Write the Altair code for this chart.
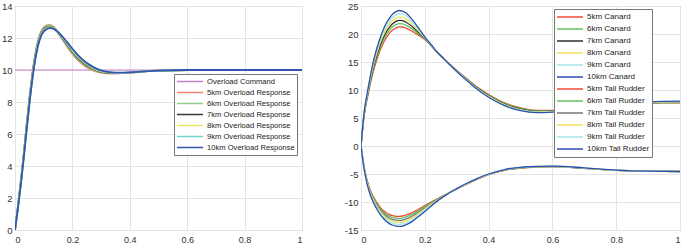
import altair as alt
import pandas as pd

# ---------------- Left panel: overload responses ----------------
T_L = [0, .01, .02, .03, .04, .05, .06, .07, .08, .09, .10, .11, .12, .13, .14,
       .16, .18, .20, .22, .24, .26, .28, .30, .33, .36, .40, .45, .50, .60, .70, .80, 1.0]
CMD_T = [0, 1]
CMD_Y = [10, 10]
L5 = [0, 1.46, 3.02, 4.70, 6.50, 8.22, 9.72, 10.93, 11.82, 12.37, 12.66, 12.79, 12.82, 12.75, 12.60,
      12.06, 11.50, 11.00, 10.60, 10.29, 10.06, 9.92, 9.83, 9.78, 9.79, 9.84, 9.91, 9.96, 10.0, 10.0, 10.0, 10.0]
L6 = [0, 1.44, 2.98, 4.66, 6.45, 8.16, 9.66, 10.88, 11.77, 12.32, 12.61, 12.75, 12.78, 12.72, 12.58,
      12.09, 11.56, 11.07, 10.67, 10.35, 10.11, 9.96, 9.86, 9.80, 9.80, 9.84, 9.91, 9.96, 10.0, 10.0, 10.0, 10.0]
L7 = [0, 1.40, 2.92, 4.58, 6.35, 8.05, 9.55, 10.78, 11.68, 12.24, 12.52, 12.67, 12.71, 12.66, 12.54,
      12.12, 11.62, 11.15, 10.74, 10.42, 10.17, 10.00, 9.89, 9.81, 9.80, 9.84, 9.91, 9.96, 10.0, 10.0, 10.0, 10.0]
L8 = [0, 1.38, 2.88, 4.52, 6.28, 7.98, 9.48, 10.71, 11.62, 12.19, 12.48, 12.63, 12.68, 12.64, 12.53,
      12.15, 11.67, 11.21, 10.80, 10.48, 10.22, 10.04, 9.92, 9.83, 9.81, 9.84, 9.91, 9.96, 10.0, 10.0, 10.0, 10.0]
L9 = [0, 1.36, 2.84, 4.47, 6.22, 7.91, 9.41, 10.65, 11.56, 12.14, 12.44, 12.59, 12.65, 12.62, 12.52,
      12.18, 11.72, 11.27, 10.86, 10.53, 10.27, 10.08, 9.95, 9.85, 9.82, 9.85, 9.91, 9.96, 10.0, 10.0, 10.0, 10.0]
L10 = [0, 1.34, 2.80, 4.42, 6.16, 7.84, 9.34, 10.58, 11.50, 12.09, 12.40, 12.55, 12.62, 12.60, 12.51,
       12.20, 11.77, 11.33, 10.92, 10.58, 10.32, 10.12, 9.98, 9.87, 9.83, 9.85, 9.91, 9.96, 10.0, 10.0, 10.0, 10.0]

LEFT_NAMES = ["Overload Command", "5km Overload Response", "6km Overload Response",
              "7km Overload Response", "8km Overload Response", "9km Overload Response",
              "10km Overload Response"]
LEFT_COLORS = ["#c77fcf", "#f4836f", "#8ed08a", "#3a3a3a", "#ece660", "#6fd8cc", "#3556b0"]

# ---------------- Right panel: canard / tail rudder ----------------
T_R = [0, .01, .02, .03, .04, .05, .06, .07, .08, .09, .10, .11, .12, .13, .14,
       .16, .18, .20, .22, .24, .26, .28, .30, .33, .36, .40, .45, .50, .55, .60, .70, .80, .90, 1.0]
C5 = [0, 5.50, 8.60, 11.30, 13.60, 15.50, 17.10, 18.40, 19.40, 20.20, 20.75, 21.10, 21.28, 21.25, 21.05,
      20.50, 19.80, 19.00, 17.90, 16.60, 15.55, 14.50, 13.50, 12.10, 10.70, 9.20, 7.70, 6.80, 6.35, 6.35, 6.90, 7.40, 7.65, 7.70]
C6 = [0, 5.62, 8.80, 11.58, 13.96, 15.90, 17.54, 18.88, 19.92, 20.74, 21.32, 21.68, 21.86, 21.82, 21.60,
      20.92, 20.06, 19.10, 17.94, 16.62, 15.56, 14.49, 13.46, 12.04, 10.62, 9.10, 7.60, 6.70, 6.27, 6.29, 6.88, 7.42, 7.70, 7.76]
C7 = [0, 5.74, 9.00, 11.86, 14.32, 16.30, 17.98, 19.36, 20.44, 21.28, 21.89, 22.26, 22.45, 22.39, 22.15,
      21.34, 20.32, 19.20, 17.98, 16.64, 15.57, 14.48, 13.42, 11.98, 10.54, 9.00, 7.50, 6.60, 6.19, 6.23, 6.86, 7.44, 7.75, 7.82]
C8 = [0, 5.86, 9.20, 12.14, 14.68, 16.70, 18.42, 19.84, 20.96, 21.82, 22.46, 22.84, 23.03, 22.96, 22.70,
      21.76, 20.58, 19.30, 18.02, 16.66, 15.58, 14.47, 13.38, 11.92, 10.46, 8.90, 7.40, 6.50, 6.11, 6.17, 6.84, 7.46, 7.80, 7.88]
C9 = [0, 5.98, 9.40, 12.42, 15.04, 17.10, 18.86, 20.32, 21.48, 22.36, 23.03, 23.42, 23.62, 23.53, 23.25,
      22.18, 20.84, 19.40, 18.06, 16.68, 15.59, 14.46, 13.34, 11.86, 10.38, 8.80, 7.30, 6.40, 6.03, 6.11, 6.82, 7.48, 7.85, 7.94]
C10 = [0, 6.10, 9.60, 12.70, 15.40, 17.50, 19.30, 20.80, 22.00, 22.90, 23.60, 24.00, 24.20, 24.10, 23.80,
       22.60, 21.10, 19.50, 18.10, 16.70, 15.60, 14.45, 13.30, 11.80, 10.30, 8.70, 7.20, 6.30, 5.95, 6.05, 6.80, 7.50, 7.90, 8.00]
R5 = [0, -3.80, -6.30, -8.00, -9.20, -10.10, -10.90, -11.50, -11.95, -12.25, -12.45, -12.55, -12.55, -12.50, -12.35,
      -11.90, -11.30, -10.65, -10.00, -9.40, -8.80, -8.25, -7.70, -6.85, -6.05, -5.10, -4.35, -3.95, -3.75, -3.70, -4.00, -4.35, -4.50, -4.55]
R6 = [0, -3.88, -6.44, -8.18, -9.40, -10.34, -11.16, -11.78, -12.26, -12.58, -12.79, -12.90, -12.91, -12.86, -12.70,
      -12.22, -11.56, -10.86, -10.14, -9.48, -8.84, -8.25, -7.68, -6.82, -6.02, -5.08, -4.32, -3.92, -3.73, -3.68, -3.98, -4.34, -4.50, -4.55]
R7 = [0, -3.96, -6.58, -8.36, -9.60, -10.58, -11.42, -12.06, -12.57, -12.91, -13.13, -13.25, -13.27, -13.22, -13.05,
      -12.54, -11.82, -11.07, -10.28, -9.56, -8.88, -8.25, -7.66, -6.79, -5.99, -5.06, -4.29, -3.89, -3.71, -3.66, -3.96, -4.33, -4.50, -4.55]
R8 = [0, -4.04, -6.72, -8.54, -9.80, -10.82, -11.68, -12.34, -12.88, -13.24, -13.47, -13.60, -13.63, -13.58, -13.40,
      -12.86, -12.08, -11.28, -10.42, -9.64, -8.92, -8.25, -7.64, -6.76, -5.96, -5.04, -4.26, -3.86, -3.69, -3.64, -3.94, -4.32, -4.50, -4.55]
R9 = [0, -4.12, -6.86, -8.72, -10.00, -11.06, -11.94, -12.62, -13.19, -13.57, -13.81, -13.95, -13.99, -13.94, -13.75,
      -13.18, -12.34, -11.49, -10.56, -9.72, -8.96, -8.25, -7.62, -6.73, -5.93, -5.02, -4.23, -3.83, -3.67, -3.62, -3.92, -4.31, -4.50, -4.55]
R10 = [0, -4.20, -7.00, -8.90, -10.20, -11.30, -12.20, -12.90, -13.50, -13.90, -14.15, -14.30, -14.35, -14.30, -14.10,
       -13.50, -12.60, -11.70, -10.70, -9.80, -9.00, -8.25, -7.60, -6.70, -5.90, -5.00, -4.20, -3.80, -3.65, -3.60, -3.90, -4.30, -4.50, -4.55]

RIGHT_NAMES = ["5km Canard", "6km Canard", "7km Canard", "8km Canard", "9km Canard", "10km Canard",
               "5km Tail Rudder", "6km Tail Rudder", "7km Tail Rudder", "8km Tail Rudder",
               "9km Tail Rudder", "10km Tail Rudder"]
RIGHT_COLORS = ["#f04a36", "#62c262", "#2e2e2e", "#efe15a", "#a6e6e6", "#2b50b0",
                "#f04a36", "#62c262", "#777777", "#efe15a", "#a6e6e6", "#2b50b0"]

FONT = "Liberation Sans"
GRID = "#e4e4e4"
LABEL = "#333333"


def frame(t, y, name):
    return pd.DataFrame({"t": t, "v": y, "series": name})


def x_enc():
    return alt.X("t:Q", scale=alt.Scale(domain=[0, 1], nice=False),
                 axis=alt.Axis(values=[0, 0.2, 0.4, 0.6, 0.8, 1], format="~g", title=None,
                               grid=True, gridColor=GRID, domain=False, ticks=False,
                               labelPadding=5, labelFont=FONT, labelFontSize=9,
                               labelColor=LABEL))


def y_enc(dom, vals):
    return alt.Y("v:Q", scale=alt.Scale(domain=dom, nice=False),
                 axis=alt.Axis(values=vals, labelExpr="'' + datum.value", title=None,
                               grid=True, gridColor=GRID, domain=False, ticks=False,
                               labelPadding=3, labelFont=FONT, labelFontSize=9.5,
                               labelColor=LABEL))


def color_enc(names, colors, lx, ly, rowh, fs):
    return alt.Color("series:N", scale=alt.Scale(domain=names, range=colors),
                     legend=alt.Legend(orient="none", legendX=lx, legendY=ly, title=None,
                                       symbolType="stroke", symbolSize=680,
                                       symbolStrokeWidth=1.5, labelFont=FONT,
                                       labelFontSize=fs, labelColor="#222",
                                       labelOffset=3, rowPadding=0, padding=2,
                                       clipHeight=rowh,
                                       strokeColor="#777", fillColor="white",
                                       labelLimit=200))


left_series = [(CMD_T, CMD_Y), (T_L, L5), (T_L, L6), (T_L, L7), (T_L, L8), (T_L, L9), (T_L, L10)]
left_layers = []
for i, (tt, yy) in enumerate(left_series):
    left_layers.append(
        alt.Chart(frame(tt, yy, LEFT_NAMES[i]))
        .mark_line(strokeWidth=1.2 if i == 0 else 1.8, interpolate="monotone", clip=True)
        .encode(x=x_enc(), y=y_enc([0, 14], list(range(0, 15, 2))),
                color=color_enc(LEFT_NAMES, LEFT_COLORS, 159, 68, 11, 7.6))
    )
left = alt.layer(*left_layers).properties(width=287, height=224)

right_vals = [C5, C6, C7, C8, C9, C10, R5, R6, R7, R8, R9, R10]
right_layers = []
for i, yy in enumerate(right_vals):
    right_layers.append(
        alt.Chart(frame(T_R, yy, RIGHT_NAMES[i]))
        .mark_line(strokeWidth=1.3, interpolate="monotone", clip=True)
        .encode(x=x_enc(), y=y_enc([-15, 25], list(range(-15, 26, 5))),
                color=color_enc(RIGHT_NAMES, RIGHT_COLORS, 193, 3, 11.85, 8))
    )
right = alt.layer(*right_layers).properties(width=319, height=224)

chart = (
    alt.hconcat(left, right, spacing=40)
    .resolve_scale(color="independent")
    .resolve_legend(color="independent")
    .properties(padding={"left": 0, "right": 0, "top": 0, "bottom": 0}, background="white")
    .configure_view(stroke="#6b6b6b", strokeWidth=1)
)

chart.save("out.html", embed_options={"renderer": "svg", "actions": False})
